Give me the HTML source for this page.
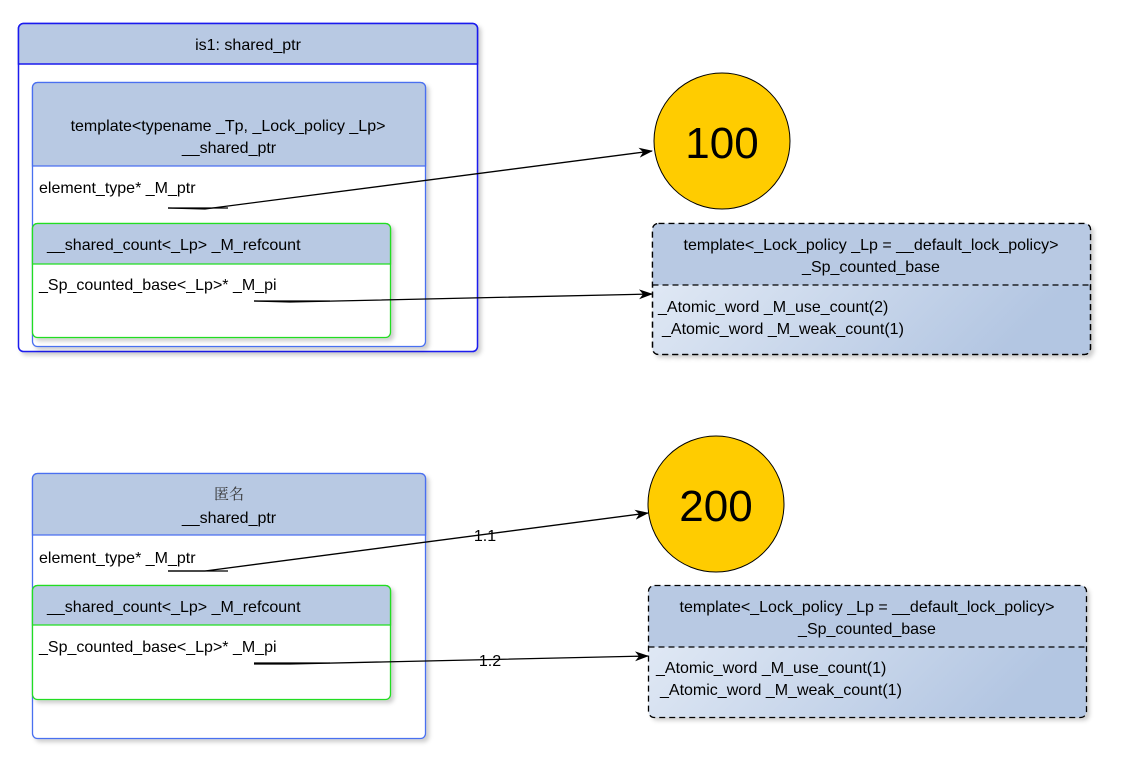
<!DOCTYPE html>
<html><head><meta charset="utf-8"><style>
html,body{margin:0;padding:0;background:#fff;}
svg{display:block;}
text{font-family:"Liberation Sans","Noto Sans CJK SC",sans-serif;font-size:16px;fill:#000;}
</style></head><body>
<svg width="1143" height="759" viewBox="0 0 1143 759" xmlns="http://www.w3.org/2000/svg">
<defs>
<linearGradient id="g" x1="0" y1="0" x2="1" y2="0.3">
<stop offset="0" stop-color="#e6edf7"/><stop offset="1" stop-color="#b3c6e2"/></linearGradient>
<filter id="sh" x="-5%" y="-5%" width="115%" height="115%"><feDropShadow dx="3" dy="3" stdDeviation="2" flood-color="#000" flood-opacity="0.2"/></filter>
<marker id="ar" viewBox="0 0 14 10" refX="13" refY="5" markerWidth="14" markerHeight="10" markerUnits="userSpaceOnUse" orient="auto"><path d="M0,0 L14,5 L0,10 L4,5 Z" fill="#000"/></marker>
</defs>

<!-- Outer box 1 -->
<g filter="url(#sh)">
<rect x="18.5" y="23.5" width="459" height="328" rx="5" fill="#fff" stroke="#1a1aee" stroke-width="1.5"/>
</g>
<path d="M18.5,64 V28.5 a5,5 0 0 1 5,-5 H472.5 a5,5 0 0 1 5,5 V64 Z" fill="#b8c9e3" stroke="#1a1aee" stroke-width="1.5"/>
<text x="248" y="50" text-anchor="middle">is1: shared_ptr</text>

<!-- Inner shared_ptr box 1 -->
<g filter="url(#sh)"><rect x="32.5" y="82.5" width="393" height="264" rx="5" fill="#fff" stroke="#4a6ff0" stroke-width="1.3"/></g>
<path d="M32.5,166 V87.5 a5,5 0 0 1 5,-5 H420.5 a5,5 0 0 1 5,5 V166 Z" fill="#b8c9e3" stroke="#4a6ff0" stroke-width="1.3"/>
<text x="228" y="131" text-anchor="middle">template&lt;typename _Tp, _Lock_policy _Lp&gt;</text>
<text x="229" y="153" text-anchor="middle">__shared_ptr</text>
<text x="39" y="193">element_type*   _M_ptr</text>

<!-- green 1 -->
<g filter="url(#sh)"><rect x="32.5" y="223.5" width="358" height="114" rx="5" fill="#fff" stroke="#22dd22" stroke-width="1.3"/></g>
<path d="M32.5,264 V228.5 a5,5 0 0 1 5,-5 H385.5 a5,5 0 0 1 5,5 V264 Z" fill="#b8c9e3" stroke="#22dd22" stroke-width="1.3"/>
<text x="47" y="250">__shared_count&lt;_Lp&gt;  _M_refcount</text>
<text x="39" y="290">_Sp_counted_base&lt;_Lp&gt;*  _M_pi</text>

<!-- circle 100 -->
<circle cx="722" cy="141" r="68" fill="#ffcc00" stroke="#000" stroke-width="1"/>
<text x="722" y="158" text-anchor="middle" style="font-size:44px">100</text>

<!-- dashed box 1 -->
<g filter="url(#sh)"><rect x="652.5" y="223.5" width="438" height="131" rx="6" fill="url(#g)" stroke="#000" stroke-width="1.3" stroke-dasharray="6,4"/></g>
<path d="M652.5,285 V229.5 a6,6 0 0 1 6,-6 H1084.5 a6,6 0 0 1 6,6 V285 Z" fill="#b8c9e3" stroke="none"/>
<line x1="652.5" y1="285" x2="1090.5" y2="285" stroke="#000" stroke-width="1.3" stroke-dasharray="6,4"/>
<rect x="652.5" y="223.5" width="438" height="131" rx="6" fill="none" stroke="#000" stroke-width="1.3" stroke-dasharray="6,4"/>
<text x="871" y="250" text-anchor="middle">template&lt;_Lock_policy _Lp = __default_lock_policy&gt;</text>
<text x="871" y="272" text-anchor="middle">_Sp_counted_base</text>
<text x="658" y="312">_Atomic_word  _M_use_count(2)</text>
<text x="662" y="334">_Atomic_word  _M_weak_count(1)</text>

<!-- arrows 1 -->
<path d="M168,208 L205,209 L652,151" fill="none" stroke="#000" stroke-width="1.3" marker-end="url(#ar)"/>
<line x1="168" y1="208" x2="228" y2="208" stroke="#000" stroke-width="1.2"/>
<path d="M254,301 L290,302 L652,294" fill="none" stroke="#000" stroke-width="1.3" marker-end="url(#ar)"/>
<line x1="254" y1="301" x2="330" y2="301" stroke="#000" stroke-width="1.2"/>

<!-- box 2 -->
<g filter="url(#sh)"><rect x="32.5" y="473.5" width="393" height="265" rx="5" fill="#fff" stroke="#4a6ff0" stroke-width="1.3"/></g>
<path d="M32.5,535 V478.5 a5,5 0 0 1 5,-5 H420.5 a5,5 0 0 1 5,5 V535 Z" fill="#b8c9e3" stroke="#4a6ff0" stroke-width="1.3"/>
<text x="229" y="499" text-anchor="middle" style="font-family:'Noto Serif CJK SC',serif;font-size:15px;fill:#333">匿名</text>
<text x="229" y="523" text-anchor="middle">__shared_ptr</text>
<text x="39" y="563">element_type*   _M_ptr</text>

<g filter="url(#sh)"><rect x="32.5" y="585.5" width="358" height="114" rx="5" fill="#fff" stroke="#22dd22" stroke-width="1.3"/></g>
<path d="M32.5,625 V590.5 a5,5 0 0 1 5,-5 H385.5 a5,5 0 0 1 5,5 V625 Z" fill="#b8c9e3" stroke="#22dd22" stroke-width="1.3"/>
<text x="47" y="612">__shared_count&lt;_Lp&gt;  _M_refcount</text>
<text x="39" y="652">_Sp_counted_base&lt;_Lp&gt;*  _M_pi</text>

<circle cx="716" cy="504" r="68" fill="#ffcc00" stroke="#000" stroke-width="1"/>
<text x="716" y="521" text-anchor="middle" style="font-size:44px">200</text>

<g filter="url(#sh)"><rect x="648.5" y="585.5" width="438" height="132" rx="6" fill="url(#g)" stroke="none"/></g>
<path d="M648.5,647 V591.5 a6,6 0 0 1 6,-6 H1080.5 a6,6 0 0 1 6,6 V647 Z" fill="#b8c9e3" stroke="none"/>
<line x1="648.5" y1="647" x2="1086.5" y2="647" stroke="#000" stroke-width="1.3" stroke-dasharray="6,4"/>
<rect x="648.5" y="585.5" width="438" height="132" rx="6" fill="none" stroke="#000" stroke-width="1.3" stroke-dasharray="6,4"/>
<text x="867" y="612" text-anchor="middle">template&lt;_Lock_policy _Lp = __default_lock_policy&gt;</text>
<text x="867" y="634" text-anchor="middle">_Sp_counted_base</text>
<text x="656" y="673">_Atomic_word  _M_use_count(1)</text>
<text x="660" y="695">_Atomic_word  _M_weak_count(1)</text>

<path d="M168,571 L205,571 L648,513" fill="none" stroke="#000" stroke-width="1.3" marker-end="url(#ar)"/>
<line x1="168" y1="571" x2="228" y2="571" stroke="#000" stroke-width="1.2"/>
<path d="M254,664 L290,664 L648,656" fill="none" stroke="#000" stroke-width="1.3" marker-end="url(#ar)"/>
<line x1="254" y1="663" x2="330" y2="663" stroke="#000" stroke-width="1.2"/>
<text x="485" y="541" text-anchor="middle">1.1</text>
<text x="490" y="666" text-anchor="middle">1.2</text>
</svg>
</body></html>
